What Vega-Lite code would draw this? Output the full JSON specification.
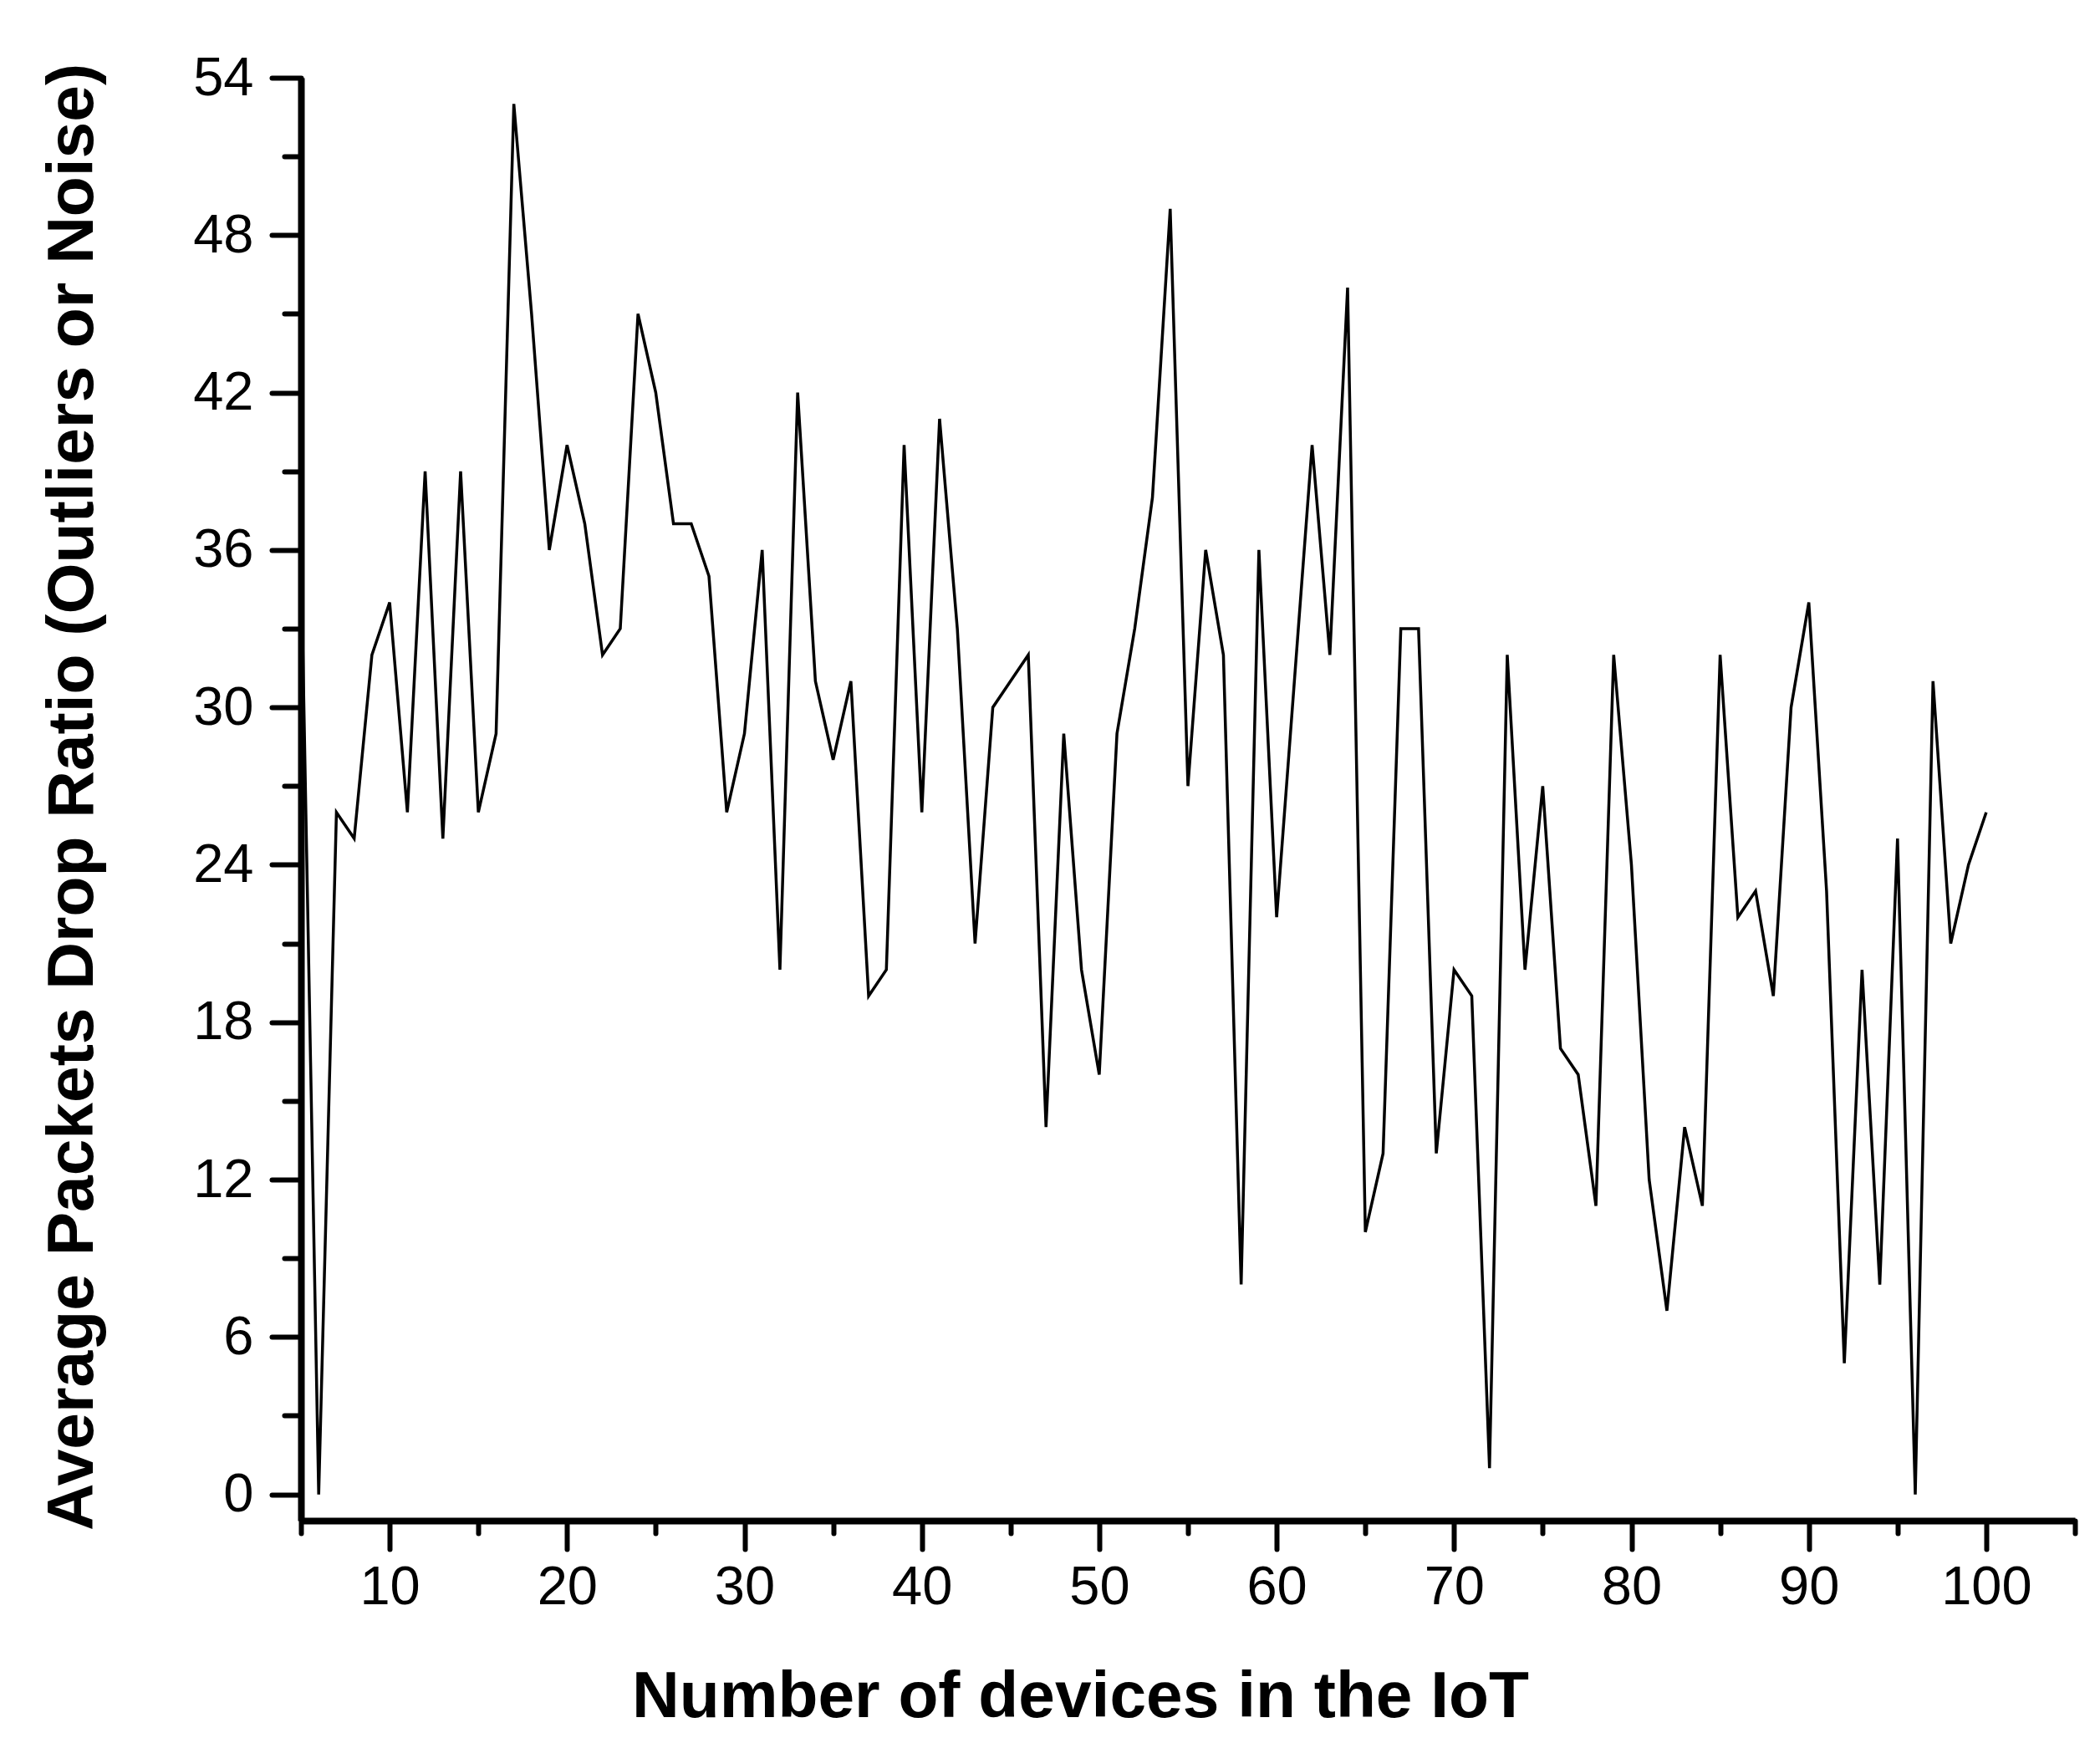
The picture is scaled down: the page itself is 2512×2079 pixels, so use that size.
{
  "$schema": "https://vega.github.io/schema/vega-lite/v6.json",
  "width": 2122,
  "height": 1726,
  "autosize": {"type": "none"},
  "padding": {"left": 360, "top": 93, "right": 30, "bottom": 260},
  "background": "white",
  "config": {
    "view": {"stroke": null},
    "font": "Liberation Sans",
    "axis": {
      "grid": false,
      "domainColor": "black",
      "domainWidth": 8,
      "tickColor": "black",
      "tickWidth": 6,
      "tickCap": "round",
      "labelColor": "black",
      "labelFont": "Liberation Sans",
      "labelFontSize": 65,
      "titleColor": "black",
      "titleFont": "Liberation Sans",
      "titleFontSize": 78.5,
      "titleFontWeight": "bold"
    }
  },
  "data": {
    "values": [
      {"devices": 5, "ratio": 36}, {"devices": 6, "ratio": 0}, {"devices": 7, "ratio": 26},
      {"devices": 8, "ratio": 25}, {"devices": 9, "ratio": 32}, {"devices": 10, "ratio": 34},
      {"devices": 11, "ratio": 26}, {"devices": 12, "ratio": 39}, {"devices": 13, "ratio": 25},
      {"devices": 14, "ratio": 39}, {"devices": 15, "ratio": 26}, {"devices": 16, "ratio": 29},
      {"devices": 17, "ratio": 53}, {"devices": 18, "ratio": 45}, {"devices": 19, "ratio": 36},
      {"devices": 20, "ratio": 40}, {"devices": 21, "ratio": 37}, {"devices": 22, "ratio": 32},
      {"devices": 23, "ratio": 33}, {"devices": 24, "ratio": 45}, {"devices": 25, "ratio": 42},
      {"devices": 26, "ratio": 37}, {"devices": 27, "ratio": 37}, {"devices": 28, "ratio": 35},
      {"devices": 29, "ratio": 26}, {"devices": 30, "ratio": 29}, {"devices": 31, "ratio": 36},
      {"devices": 32, "ratio": 20}, {"devices": 33, "ratio": 42}, {"devices": 34, "ratio": 31},
      {"devices": 35, "ratio": 28}, {"devices": 36, "ratio": 31}, {"devices": 37, "ratio": 19},
      {"devices": 38, "ratio": 20}, {"devices": 39, "ratio": 40}, {"devices": 40, "ratio": 26},
      {"devices": 41, "ratio": 41}, {"devices": 42, "ratio": 33}, {"devices": 43, "ratio": 21},
      {"devices": 44, "ratio": 30}, {"devices": 45, "ratio": 31}, {"devices": 46, "ratio": 32},
      {"devices": 47, "ratio": 14}, {"devices": 48, "ratio": 29}, {"devices": 49, "ratio": 20},
      {"devices": 50, "ratio": 16}, {"devices": 51, "ratio": 29}, {"devices": 52, "ratio": 33},
      {"devices": 53, "ratio": 38}, {"devices": 54, "ratio": 49}, {"devices": 55, "ratio": 27},
      {"devices": 56, "ratio": 36}, {"devices": 57, "ratio": 32}, {"devices": 58, "ratio": 8},
      {"devices": 59, "ratio": 36}, {"devices": 60, "ratio": 22}, {"devices": 61, "ratio": 31},
      {"devices": 62, "ratio": 40}, {"devices": 63, "ratio": 32}, {"devices": 64, "ratio": 46},
      {"devices": 65, "ratio": 10}, {"devices": 66, "ratio": 13}, {"devices": 67, "ratio": 33},
      {"devices": 68, "ratio": 33}, {"devices": 69, "ratio": 13}, {"devices": 70, "ratio": 20},
      {"devices": 71, "ratio": 19}, {"devices": 72, "ratio": 1}, {"devices": 73, "ratio": 32},
      {"devices": 74, "ratio": 20}, {"devices": 75, "ratio": 27}, {"devices": 76, "ratio": 17},
      {"devices": 77, "ratio": 16}, {"devices": 78, "ratio": 11}, {"devices": 79, "ratio": 32},
      {"devices": 80, "ratio": 24}, {"devices": 81, "ratio": 12}, {"devices": 82, "ratio": 7},
      {"devices": 83, "ratio": 14}, {"devices": 84, "ratio": 11}, {"devices": 85, "ratio": 32},
      {"devices": 86, "ratio": 22}, {"devices": 87, "ratio": 23}, {"devices": 88, "ratio": 19},
      {"devices": 89, "ratio": 30}, {"devices": 90, "ratio": 34}, {"devices": 91, "ratio": 23},
      {"devices": 92, "ratio": 5}, {"devices": 93, "ratio": 20}, {"devices": 94, "ratio": 8},
      {"devices": 95, "ratio": 25}, {"devices": 96, "ratio": 0}, {"devices": 97, "ratio": 31},
      {"devices": 98, "ratio": 21}, {"devices": 99, "ratio": 24}, {"devices": 100, "ratio": 26}
    ]
  },
  "layer": [
    {
      "mark": {"type": "point", "opacity": 0},
      "encoding": {
        "x": {
          "field": "devices", "type": "quantitative",
          "scale": {"domain": [5, 105], "nice": false, "zero": false},
          "axis": {
            "orient": "bottom", "values": [5, 15, 25, 35, 45, 55, 65, 75, 85, 95, 105],
            "tickSize": 15, "domain": false, "labels": false, "title": null
          }
        },
        "y": {
          "field": "ratio", "type": "quantitative",
          "scale": {"domain": [-1, 54], "nice": false, "zero": false},
          "axis": {
            "orient": "left", "values": [3, 9, 15, 21, 27, 33, 39, 45, 51],
            "tickSize": 20, "domain": false, "labels": false, "title": null
          }
        }
      }
    },
    {
      "mark": {"type": "line", "color": "black", "strokeWidth": 3.5},
      "encoding": {
        "x": {
          "field": "devices", "type": "quantitative",
          "axis": {
            "orient": "bottom",
            "values": [10, 20, 30, 40, 50, 60, 70, 80, 90, 100],
            "tickSize": 34, "labelPadding": 14,
            "title": "Number of devices in the IoT",
            "titleX": 932, "titleY": 234, "titleAlign": "center", "titleBaseline": "alphabetic"
          }
        },
        "y": {
          "field": "ratio", "type": "quantitative",
          "axis": {
            "orient": "left",
            "values": [0, 6, 12, 18, 24, 30, 36, 42, 48, 54],
            "tickSize": 35, "labelPadding": 22,
            "title": "Average Packets Drop Ratio (Outliers or Noise)",
            "titleX": -250, "titleY": 860, "titleAngle": -90, "titleAlign": "center", "titleBaseline": "alphabetic"
          }
        }
      }
    }
  ],
  "resolve": {"axis": {"x": "independent", "y": "independent"}}
}
